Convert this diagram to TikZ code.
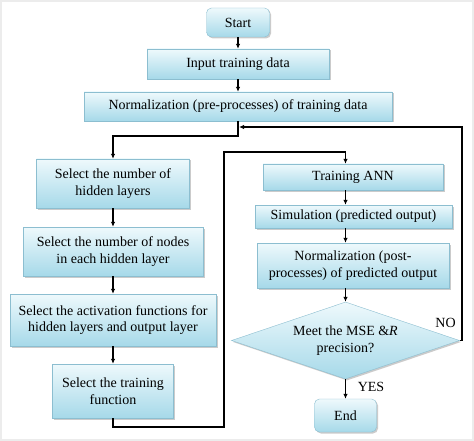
\documentclass[tikz,border=0pt]{standalone}
\usepackage{fontspec}
\setmainfont{Liberation Serif}
\usetikzlibrary{positioning, shapes.geometric, arrows.meta, shadows}

\definecolor{boxtop}{RGB}{238,249,252}
\definecolor{boxbot}{RGB}{166,217,233}
\definecolor{boxline}{RGB}{140,190,208}

\tikzset{
  stepbox/.style={draw=boxline, top color=boxtop, bottom color=boxbot, align=center, inner sep=2pt,
    font=\fontsize{14}{16.5}\selectfont, drop shadow={shadow xshift=1.5pt, shadow yshift=-1.5pt, fill=black!40}},
  termbox/.style={stepbox, rounded corners=5pt},
  decbox/.style={stepbox, diamond, aspect=2.96, inner sep=0pt},
  flow/.style={line width=1.2pt, -{Latex[length=5pt, width=4.5pt]}},
  tag/.style={font=\fontsize{14}{16.5}\selectfont, inner sep=0pt},
}

\begin{document}
\begin{tikzpicture}[x=1pt, y=-1pt]
  \fill[gray!15] (0,0) rectangle (474,441);
  \fill[white] (2,2) rectangle (472,439);

  % top column
  \node[termbox, minimum width=63, minimum height=29] (start) at (238,22.5) {Start};
  \node[stepbox, minimum width=182, minimum height=30] (input) at (238,64) {Input training data};
  \node[stepbox, minimum width=308, minimum height=29] (norm) at (238,106.5) {Normalization (pre-processes) of training data};

  % left column
  \node[stepbox, minimum width=153, minimum height=49] (hidden) at (113,183.5) {Select the number of\\hidden layers};
  \node[stepbox, minimum width=180, minimum height=49] (nodes) at (113,251.5) {Select the number of nodes\\in each hidden layer};
  \node[stepbox, minimum width=206, minimum height=52] (actfun) at (113,320) {Select the activation functions for\\hidden layers and output layer};
  \node[stepbox, minimum width=121, minimum height=54] (trainfun) at (113,391) {Select the training\\function};

  % right column
  \node[stepbox, minimum width=180, minimum height=26] (ann) at (353,177) {Training ANN};
  \node[stepbox, minimum width=197, minimum height=23] (sim) at (353.5,216.5) {Simulation (predicted output)};
  \node[stepbox, minimum width=192, minimum height=45] (post) at (353,265.5) {Normalization (post-\\processes) of predicted output};
  \node[decbox, minimum width=228, minimum height=77] (check) at (345.5,340.5) {Meet the MSE \&\textit{R}\\precision?};
  \node[termbox, minimum width=62, minimum height=33] (end) at (345.5,415.5) {End};

  \coordinate (split) at (238,136);
  \coordinate (loopin) at (239,127);
  \coordinate (farright) at (462,127);
  \coordinate (lowleft) at (224,427);
  \coordinate (upleft) at (224,152);

  \draw[flow] (start) -- (input);
  \draw[flow] (input) -- (norm);
  \draw[flow] (norm.south) -- (split) -| (hidden.north);
  \draw[flow] (hidden) -- (nodes);
  \draw[flow] (nodes) -- (actfun);
  \draw[flow] (actfun) -- (trainfun);
  \draw[flow] (trainfun.south) |- (lowleft) -- (upleft) -| (ann.north -| check.north);
  \draw[flow] (ann.south -| check.north) -- (sim.north -| check.north);
  \draw[flow] (sim.south -| check.north) -- (post.north -| check.north);
  \draw[flow] (post.south -| check.north) -- (check.north);
  \draw[flow] (check.south) -- (end.north);
  \draw[flow] (check.east) -| (farright) -- (loopin);

  \node[tag] (yes) at (371,387) {YES};
  \node[tag] (no) at (445.5,323) {NO};
\end{tikzpicture}
\end{document}
